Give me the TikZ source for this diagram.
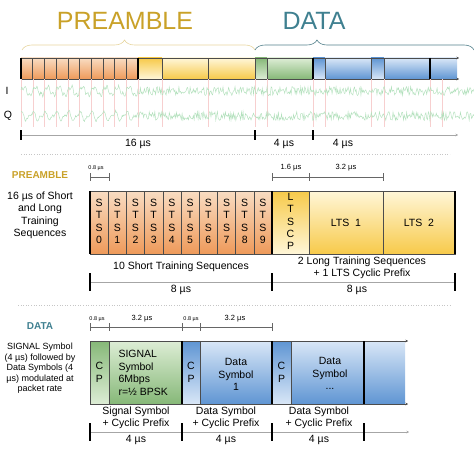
\documentclass[tikz,border=0pt]{standalone}
\usepackage{fontspec}
\setmainfont{Liberation Sans}
\usepackage{tikz}
\usetikzlibrary{calc}
\usetikzlibrary{arrows.meta}
\usetikzlibrary{decorations.pathreplacing}

\definecolor{pregold}{HTML}{C9A128}
\definecolor{datateal}{HTML}{3F8090}
\definecolor{stslight}{HTML}{F9DCC2}
\definecolor{stsdark}{HTML}{EE9A5A}
\definecolor{ltsgold}{HTML}{F7CA4A}
\definecolor{ltspale}{HTML}{FFF6D8}
\definecolor{grdark}{HTML}{86B878}
\definecolor{grpale}{HTML}{DDEDD5}
\definecolor{bldark}{HTML}{5F95D3}
\definecolor{blpale}{HTML}{D9E7F7}
\definecolor{wavegreen}{HTML}{B2E0BC}
\definecolor{cutred}{HTML}{F7CFCF}

\begin{document}
\begin{tikzpicture}[x = 1pt, y = -1pt, font = \fontsize{10.5}{12.5}\selectfont,
		seg/.style = {draw = black!70, line width = 0.5pt},
		sts/.style = {seg, top color = stslight, bottom color = stsdark},
		ltscp/.style = {seg, top color = ltsgold, bottom color = ltspale},
		lts/.style = {seg, top color = ltspale, bottom color = ltsgold},
		gcp/.style = {seg, top color = grdark, bottom color = grpale},
		gsig/.style = {seg, top color = grpale, bottom color = grdark},
		bcp/.style = {seg, top color = bldark, bottom color = blpale},
		bsym/.style = {seg, top color = blpale, bottom color = bldark},
		heavy/.style = {line width = 1.6pt, black},
		timeline/.style = {gray!70, line width = 0.8pt},
		dimline/.style = {black!60, line width = 0.4pt},
		sepline/.style = {gray!45, dotted, line width = 0.6pt},
		wave/.style = {wavegreen, line width = 0.45pt},
		cutline/.style = {cutred, line width = 0.35pt},
		bigtitle/.style = {font = \fontsize{25}{28}\selectfont},
		sechead/.style = {font = \fontsize{10}{12}\selectfont\bfseries},
		tinylbl/.style = {font = \fontsize{5.5}{6}\selectfont},
		smalllbl/.style = {font = \fontsize{7.5}{8}\selectfont},
		stacked/.style = {align = center, font = \fontsize{10.5}{12.5}\selectfont},
		arrowend/.style = {-{Stealth[length = 2.5pt, width = 2.5pt]}}]
	\useasboundingbox (0, 0) rectangle (474, 452);

	\node[bigtitle, text = pregold](pretitle) at (125, 21) {PREAMBLE};
	\node[bigtitle, text = datateal](datatitle) at (314, 21) {DATA};

	\draw[decorate, decoration = {brace, amplitude = 10pt, aspect = 0.44}, pregold!45, line width = 0.6pt] (22, 50) -- (255, 50);
	\draw[decorate, decoration = {brace, amplitude = 10pt, aspect = 0.283}, datateal!70!gray, line width = 0.6pt] (255, 50) -- (474, 50);

	\foreach \i in {0, ..., 9}
		\shade[sts] ({21 + \i*11.7}, 58) rectangle ({32.7 + \i*11.7}, 79);
	\shade[ltscp] (138, 58) rectangle (162, 79);
	\shade[lts] (162, 58) rectangle (208, 79);
	\shade[lts] (208, 58) rectangle (255, 79);
	\shade[gcp] (255, 58) rectangle (267, 79);
	\shade[gsig] (267, 58) rectangle (313, 79);
	\shade[bcp] (313, 58) rectangle (325, 79);
	\shade[bsym] (325, 58) rectangle (371, 79);
	\shade[bcp] (371, 58) rectangle (384, 79);
	\shade[bsym] (384, 58) rectangle (430, 79);
	\shade[bsym] (430, 58) rectangle (442, 79);
	\shade[bsym, draw = none] (442, 58) rectangle (457, 79);
	\draw[seg, arrowend] (442, 58) -- (459, 58);
	\draw[seg, arrowend] (442, 79) -- (459, 79);
	\foreach \x in {21, 138, 313, 430}
		\draw[heavy] (\x, 58) -- (\x, 79);

	\node(ilbl) at (7, 91) {I};
	\node(qlbl) at (8, 116) {Q};
	\foreach \x in {21, 32.7, 44.4, 56.1, 67.8, 79.5, 91.2, 102.9, 114.6, 126.3, 138, 162, 208, 255, 267, 313, 325, 371, 384, 430, 442}
		\draw[cutline] (\x, 79) -- (\x, 127);
	\pgfmathsetseed{7}
	\draw[wave] plot[domain = 21:138, samples = 200] (\x, {91 - 4*sin(((\x - 21)/11.7)*360) - 2*sin(((\x - 21)/11.7)*1080 + 40) + 1.2*rand});
	\draw[wave] plot[domain = 138:474, samples = 420] (\x, {91 + 4.5*rand});
	\draw[wave] plot[domain = 21:138, samples = 200] (\x, {116 - 3.5*sin(((\x - 21)/11.7)*360 + 90) - 2*sin(((\x - 21)/11.7)*720) + 1.2*rand});
	\draw[wave] plot[domain = 138:474, samples = 420] (\x, {116 + 4.5*rand});

	\coordinate[](ta) at (21, 135);
	\coordinate[](tb) at (255, 135);
	\coordinate[](tc) at (313, 135);
	\coordinate[](te) at (458, 135);
	\draw[timeline, arrowend] (ta) -- (te);
	\foreach \p in {ta, tb, tc}
		\draw[heavy] ($(\p) + (0, -5)$) -- ($(\p) + (0, 5)$);
	\node(sixteen) at (138, 144) {16 µs};
	\node(sigdur) at (284, 144) {4 µs};
	\node(symdur) at (343, 144) {4 µs};
	\draw[sepline] (21, 154) -- (450, 154);

	\node[sechead, text = pregold](prehead) at (40, 175) {PREAMBLE};
	\node[stacked](predesc) at (40, 215.5) {16 µs of Short\\and Long\\Training\\Sequences};

	\node[tinylbl](stsdim) at (96, 168) {0.8 µs};
	\node[smalllbl](cpdim) at (291, 168) {1.6 µs};
	\node[smalllbl](ltsdim) at (346, 168) {3.2 µs};
	\draw[dimline] (90, 177) -- (109, 177);
	\draw[dimline] (272, 177) -- (383, 177);
	\foreach \x in {90, 109, 272, 309, 383}
		\draw[dimline] (\x, 173) -- (\x, 181);

	\foreach \i in {0, ..., 9} {
		\shade[sts] ({90 + \i*18.2}, 191) rectangle ({108.2 + \i*18.2}, 254);
		\node[stacked](sts\i) at ({99.1 + \i*18.2}, 221.5) {S\\T\\S\\\i};
	}
	\shade[ltscp] (272, 191) rectangle (309, 254);
	\shade[lts] (309, 191) rectangle (383, 254);
	\shade[lts] (383, 191) rectangle (455, 254);
	\node[align = center, font = \fontsize{10.5}{12.2}\selectfont](ltscplbl) at (290.5, 221.5) {L\\T\\S\\C\\P};
	\node(ltsone) at (346, 223) {LTS\ \ 1};
	\node(ltstwo) at (419, 223) {LTS\ \ 2};
	\foreach \x in {90, 272, 455}
		\draw[heavy] (\x, 191) -- (\x, 254);

	\node(shortlbl) at (181, 267) {10 Short Training Sequences};
	\node[stacked](longlbl) at (362, 268) {2 Long Training Sequences\\+ 1 LTS Cyclic Prefix};
	\coordinate[](pa) at (90, 282);
	\coordinate[](pb) at (272, 282);
	\coordinate[](pc) at (455, 282);
	\draw[timeline] (pa) -- (pc);
	\foreach \p in {pa, pb, pc}
		\draw[heavy] ($(\p) + (0, -9)$) -- ($(\p) + (0, 9)$);
	\node(shortdur) at (181, 290) {8 µs};
	\node(longdur) at (357, 290) {8 µs};
	\draw[sepline] (18, 305) -- (450, 305);

	\node[sechead, text = datateal](datahead) at (40, 326) {DATA};
	\node[align = center, font = \fontsize{9}{10.5}\selectfont](datadesc) at (40, 368.5) {SIGNAL Symbol\\(4 µs) followed by\\Data Symbols (4\\µs) modulated at\\packet rate};

	\node[tinylbl](gcpdim) at (97, 319) {0.8 µs};
	\node[smalllbl](gsigdim) at (142, 319) {3.2 µs};
	\node[tinylbl](bcpdim) at (191, 319) {0.8 µs};
	\node[smalllbl](bsymdim) at (235, 319) {3.2 µs};
	\draw[dimline] (90, 327) -- (272, 327);
	\foreach \x in {90, 109, 182, 200, 272}
		\draw[dimline] (\x, 323) -- (\x, 331);

	\shade[gcp] (90, 341) rectangle (109, 404);
	\shade[gsig] (109, 341) rectangle (182, 404);
	\shade[bcp] (182, 341) rectangle (200, 404);
	\shade[bsym] (200, 341) rectangle (272, 404);
	\shade[bcp] (272, 341) rectangle (291, 404);
	\shade[bsym] (291, 341) rectangle (364, 404);
	\shade[bsym] (364, 341) rectangle (382, 404);
	\shade[bsym, draw = none] (382, 341) rectangle (405, 404);
	\draw[seg, arrowend] (382, 341) -- (408, 341);
	\draw[seg, arrowend] (382, 404) -- (408, 404);
	\foreach \x in {182, 272, 364}
		\draw[heavy] (\x, 341) -- (\x, 404);

	\node[stacked](gcplbl) at (99.5, 372.5) {C\\P};
	\node[align = left, anchor = west, font = \fontsize{10.5}{12.7}\selectfont](siglbl) at (115, 373) {SIGNAL\\Symbol\\6Mbps\\r=½ BPSK};
	\node[stacked](bcplbl) at (191, 372.5) {C\\P};
	\node[stacked](symone) at (236, 374.5) {Data\\Symbol\\1};
	\node[stacked](cpthree) at (281.5, 372.5) {C\\P};
	\node[stacked](symmore) at (330, 373.5) {Data\\Symbol\\...};

	\node[stacked](siglen) at (136, 418) {Signal Symbol\\+ Cyclic Prefix};
	\node[stacked](symlen) at (226, 418) {Data Symbol\\+ Cyclic Prefix};
	\node[stacked](morelen) at (319, 418) {Data Symbol\\+ Cyclic Prefix};
	\coordinate[](da) at (90, 432);
	\coordinate[](db) at (182, 432);
	\coordinate[](dc) at (272, 432);
	\coordinate[](dd) at (364, 432);
	\coordinate[](de) at (409, 432);
	\draw[timeline, arrowend] (da) -- (de);
	\foreach \p in {da, db, dc, dd}
		\draw[heavy] ($(\p) + (0, -9)$) -- ($(\p) + (0, 9)$);
	\node(sigtime) at (136, 440) {4 µs};
	\node(symtime) at (226, 440) {4 µs};
	\node(moretime) at (319, 440) {4 µs};
\end{tikzpicture}
\end{document}
